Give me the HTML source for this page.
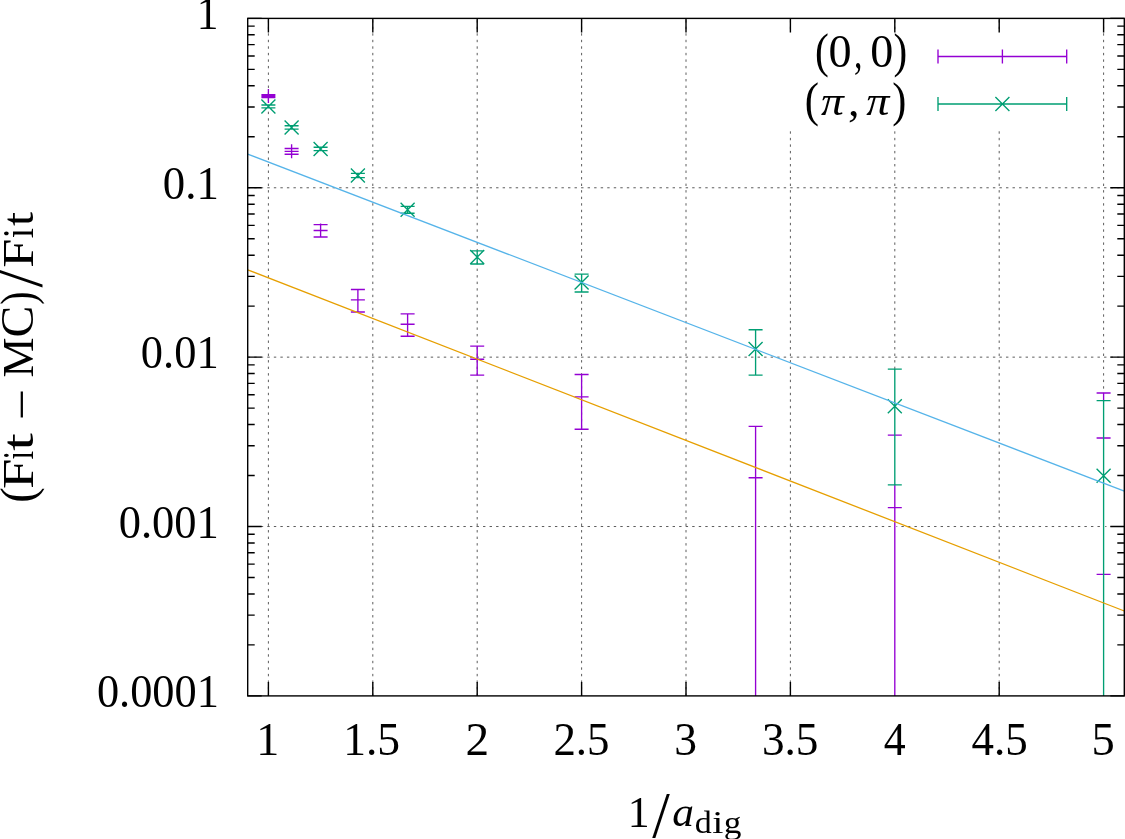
<!DOCTYPE html>
<html><head><meta charset="utf-8"><title>plot</title>
<style>html,body{margin:0;padding:0;background:#fff;}body{width:1125px;height:839px;overflow:hidden;}svg{display:block;}</style>
</head><body>
<svg width="1125" height="839" viewBox="0 0 1125 839" font-family="'Liberation Serif', serif" fill="#000">
<defs><mask id="gm" maskUnits="userSpaceOnUse" x="0" y="0" width="1125" height="839"><rect width="1125" height="839" fill="#fff"/><rect x="893.20" y="369.5" width="3.2" height="340" fill="#000"/><rect x="1102.00" y="393.5" width="3.2" height="340" fill="#000"/></mask><clipPath id="c"><rect x="247.70" y="18.40" width="876.60" height="677.50"/></clipPath></defs>
<path d="M268.40 695.90V18.40M372.80 695.90V18.40M477.20 695.90V18.40M581.60 695.90V18.40M686.00 695.90V18.40M790.40 695.90V18.40M894.80 695.90V18.40M999.20 695.90V18.40M1103.60 695.90V18.40M247.70 187.78H1124.30M247.70 357.15H1124.30M247.70 526.52H1124.30" stroke="#4a4a4a" stroke-width="0.9" stroke-dasharray="2.4 4.137" fill="none" mask="url(#gm)"/>
<rect x="770" y="31.5" width="320" height="99" fill="#fff"/>
<path d="M268.40 695.90v-14M268.40 18.40v14M372.80 695.90v-14M372.80 18.40v14M477.20 695.90v-14M477.20 18.40v14M581.60 695.90v-14M581.60 18.40v14M686.00 695.90v-14M686.00 18.40v14M790.40 695.90v-14M790.40 18.40v14M894.80 18.40v14M999.20 695.90v-14M999.20 18.40v14M1103.60 18.40v14M247.70 18.40h14M1124.30 18.40h-14M247.70 136.79h7M1124.30 136.79h-7M247.70 106.96h7M1124.30 106.96h-7M247.70 85.80h7M1124.30 85.80h-7M247.70 69.39h7M1124.30 69.39h-7M247.70 55.98h7M1124.30 55.98h-7M247.70 44.64h7M1124.30 44.64h-7M247.70 34.81h7M1124.30 34.81h-7M247.70 26.15h7M1124.30 26.15h-7M247.70 187.78h14M1124.30 187.78h-14M247.70 306.16h7M1124.30 306.16h-7M247.70 276.34h7M1124.30 276.34h-7M247.70 255.18h7M1124.30 255.18h-7M247.70 238.76h7M1124.30 238.76h-7M247.70 225.35h7M1124.30 225.35h-7M247.70 214.01h7M1124.30 214.01h-7M247.70 204.19h7M1124.30 204.19h-7M247.70 195.53h7M1124.30 195.53h-7M247.70 357.15h14M1124.30 357.15h-14M247.70 475.54h7M1124.30 475.54h-7M247.70 445.71h7M1124.30 445.71h-7M247.70 424.55h7M1124.30 424.55h-7M247.70 408.14h7M1124.30 408.14h-7M247.70 394.73h7M1124.30 394.73h-7M247.70 383.39h7M1124.30 383.39h-7M247.70 373.56h7M1124.30 373.56h-7M247.70 364.90h7M1124.30 364.90h-7M247.70 526.52h14M1124.30 526.52h-14M247.70 644.91h7M1124.30 644.91h-7M247.70 615.09h7M1124.30 615.09h-7M247.70 593.93h7M1124.30 593.93h-7M247.70 577.51h7M1124.30 577.51h-7M247.70 564.10h7M1124.30 564.10h-7M247.70 552.76h7M1124.30 552.76h-7M247.70 542.94h7M1124.30 542.94h-7M247.70 534.28h7M1124.30 534.28h-7M247.70 695.90h14M1124.30 695.90h-14" stroke="#000" stroke-width="1.4" fill="none"/>
<path d="M268.40 94.57V97.47M261.40 94.57h14M261.40 97.47h14M261.40 96.00h14M268.40 89.00v14M291.60 148.50V154.21M284.60 148.50h14M284.60 154.21h14M284.60 151.30h14M291.60 144.30v14M320.60 224.55V236.99M313.60 224.55h14M313.60 236.99h14M313.60 230.50h14M320.60 223.50v14M357.89 289.48V312.02M350.89 289.48h14M350.89 312.02h14M350.89 299.89h14M357.89 292.89v14M407.61 313.87V336.23M400.61 313.87h14M400.61 336.23h14M400.61 324.20h14M407.61 317.20v14M477.20 346.07V375.19M470.20 346.07h14M470.20 375.19h14M470.20 359.20h14M477.20 352.20v14M581.60 374.54V429.20M574.60 374.54h14M574.60 429.20h14M574.60 396.90h14M581.60 389.90v14M755.59 426.38V715.90M748.59 426.38h14M748.59 477.70h14M755.59 470.70v14M894.80 484.32V715.90M887.80 435.16h14M887.80 507.62h14M894.80 500.62v14M1103.60 393.01V401.15M1096.60 393.01h14M1096.60 574.34h14M1096.60 437.99h14" stroke="#9400d3" stroke-width="1.35" fill="none" clip-path="url(#c)"/>
<path d="M268.40 104.96V107.87M261.40 104.96h14M261.40 107.87h14M261.40 99.40l14 14M261.40 113.40l14 -14M291.60 125.78V129.08M284.60 125.78h14M284.60 129.08h14M284.60 120.41l14 14M284.60 134.41l14 -14M320.60 147.24V150.64M313.60 147.24h14M313.60 150.64h14M313.60 141.92l14 14M313.60 155.92l14 -14M357.89 173.36V177.65M350.89 173.36h14M350.89 177.65h14M350.89 168.48l14 14M350.89 182.48l14 -14M407.61 206.33V213.23M400.61 206.33h14M400.61 213.23h14M400.61 202.70l14 14M400.61 216.70l14 -14M477.20 250.82V263.96M470.20 250.82h14M470.20 263.96h14M470.20 250.10l14 14M470.20 264.10l14 -14M581.60 274.07V292.02M574.60 274.07h14M574.60 292.02h14M574.60 275.50l14 14M574.60 289.50l14 -14M755.59 329.77V375.14M748.59 329.77h14M748.59 375.14h14M748.59 342.01l14 14M748.59 356.01l14 -14M894.80 369.08V484.82M887.80 369.08h14M887.80 484.82h14M887.80 399.21l14 14M887.80 413.21l14 -14M1103.60 400.65V715.90M1096.60 400.65h14M1096.60 468.69l14 14M1096.60 482.69l14 -14" stroke="#009e73" stroke-width="1.35" fill="none" clip-path="url(#c)"/>
<path d="M247.70 154.06L1124.30 491.2" stroke="#56b4e9" stroke-width="1.3" fill="none"/>
<path d="M247.70 269.8L1124.30 611.0" stroke="#e69f00" stroke-width="1.3" fill="none"/>
<path d="M938.0 56.5H1066.7M938.0 49.5v14M1066.7 49.5v14M995.4 56.5h14M1002.4 49.5v14" stroke="#9400d3" stroke-width="1.35" fill="none"/><path d="M938.0 104.0H1066.7M938.0 97.0v14M1066.7 97.0v14M995.4 97.0l14 14M995.4 111.0l14 -14" stroke="#009e73" stroke-width="1.35" fill="none"/>
<rect x="247.70" y="18.40" width="876.60" height="677.50" stroke="#000" stroke-width="1.4" fill="none"/>
<text transform="translate(196.79 29.40) scale(0.9566 1)" font-size="45.40">1</text>
<text transform="translate(162.81 198.78) scale(0.9864 1)" font-size="45.40">0.1</text>
<text transform="translate(140.82 368.15) scale(0.9798 1)" font-size="45.40">0.01</text>
<text transform="translate(118.72 537.52) scale(0.9804 1)" font-size="45.40">0.001</text>
<text transform="translate(96.92 706.90) scale(0.9775 1)" font-size="45.40">0.0001</text>
<text transform="translate(256.21 754.50) scale(1.0132 1)" font-size="45.40">1</text>
<text transform="translate(343.20 754.50) scale(1.0030 1)" font-size="45.40">1.5</text>
<text transform="translate(465.62 754.50) scale(1.0407 1)" font-size="45.40">2</text>
<text transform="translate(553.43 754.50) scale(0.9888 1)" font-size="45.40">2.5</text>
<text transform="translate(674.37 754.50) scale(1.0046 1)" font-size="45.40">3</text>
<text transform="translate(761.89 754.50) scale(0.9969 1)" font-size="45.40">3.5</text>
<text transform="translate(883.72 754.50) scale(0.9663 1)" font-size="45.40">4</text>
<text transform="translate(971.55 754.50) scale(0.9903 1)" font-size="45.40">4.5</text>
<text transform="translate(1091.51 754.50) scale(1.0242 1)" font-size="45.40">5</text>
<text transform="translate(627.67 826.80) scale(0.9714 1)" font-size="45.00">1</text>
<text transform="translate(652.20 836.85) scale(0.9679 1)" font-size="65.37">/</text>
<text transform="translate(672.20 826.37) scale(1.0183 1)" font-size="42.71" font-style="italic">a</text>
<text transform="translate(694.71 832.50) scale(1.1063 1)" font-size="30.79">d</text>
<text transform="translate(712.20 832.50) scale(1.2991 1)" font-size="30.79">i</text>
<text transform="translate(723.71 832.50) scale(1.1497 1)" font-size="30.79">g</text>
<text transform="translate(33.60 502.80) rotate(-90) scale(0.9652 1)" font-size="48.35">(</text>
<text transform="translate(32.70 488.94) rotate(-90) scale(1.2353 1)" font-size="44.27">F</text>
<text transform="translate(32.70 459.62) rotate(-90) scale(0.7058 1)" font-size="44.27">i</text>
<text transform="translate(32.70 450.63) rotate(-90) scale(1.4247 1)" font-size="44.27">t</text>
<text transform="translate(37.13 420.00) rotate(-90) scale(1.2155 1)" font-size="46.00">−</text>
<text transform="translate(32.70 377.45) rotate(-90) scale(1.0150 1)" font-size="44.27">M</text>
<text transform="translate(33.03 337.51) rotate(-90) scale(1.0215 1)" font-size="46.72">C</text>
<text transform="translate(33.73 304.70) rotate(-90) scale(0.8182 1)" font-size="48.89">)</text>
<text transform="translate(42.26 287.60) rotate(-90) scale(0.9825 1)" font-size="64.03">/</text>
<text transform="translate(32.70 267.67) rotate(-90) scale(1.1800 1)" font-size="44.27">F</text>
<text transform="translate(32.70 238.24) rotate(-90) scale(0.8376 1)" font-size="44.27">i</text>
<text transform="translate(32.70 226.10) rotate(-90) scale(1.1380 1)" font-size="44.27">t</text>
<text transform="translate(814.93 67.18) scale(0.8578 1)" font-size="48.46">(</text>
<text transform="translate(828.55 67.44) scale(1.0123 1)" font-size="45.63">0</text>
<text transform="translate(853.95 67.68) scale(0.7122 1)" font-size="47.45">,</text>
<text transform="translate(870.15 67.44) scale(1.0123 1)" font-size="45.63">0</text>
<text transform="translate(893.57 67.31) scale(0.8399 1)" font-size="49.00">)</text>
<text transform="translate(804.78 115.55) scale(0.8881 1)" font-size="48.13">(</text>
<text transform="translate(821.07 114.89) scale(1.1157 1)" font-size="40.85" font-style="italic">π</text>
<text transform="translate(847.95 116.04) scale(1.0246 1)" font-size="45.10">,</text>
<text transform="translate(866.37 114.89) scale(1.1298 1)" font-size="40.85" font-style="italic">π</text>
<text transform="translate(892.33 115.68) scale(0.8693 1)" font-size="48.67">)</text>
</svg>
</body></html>
